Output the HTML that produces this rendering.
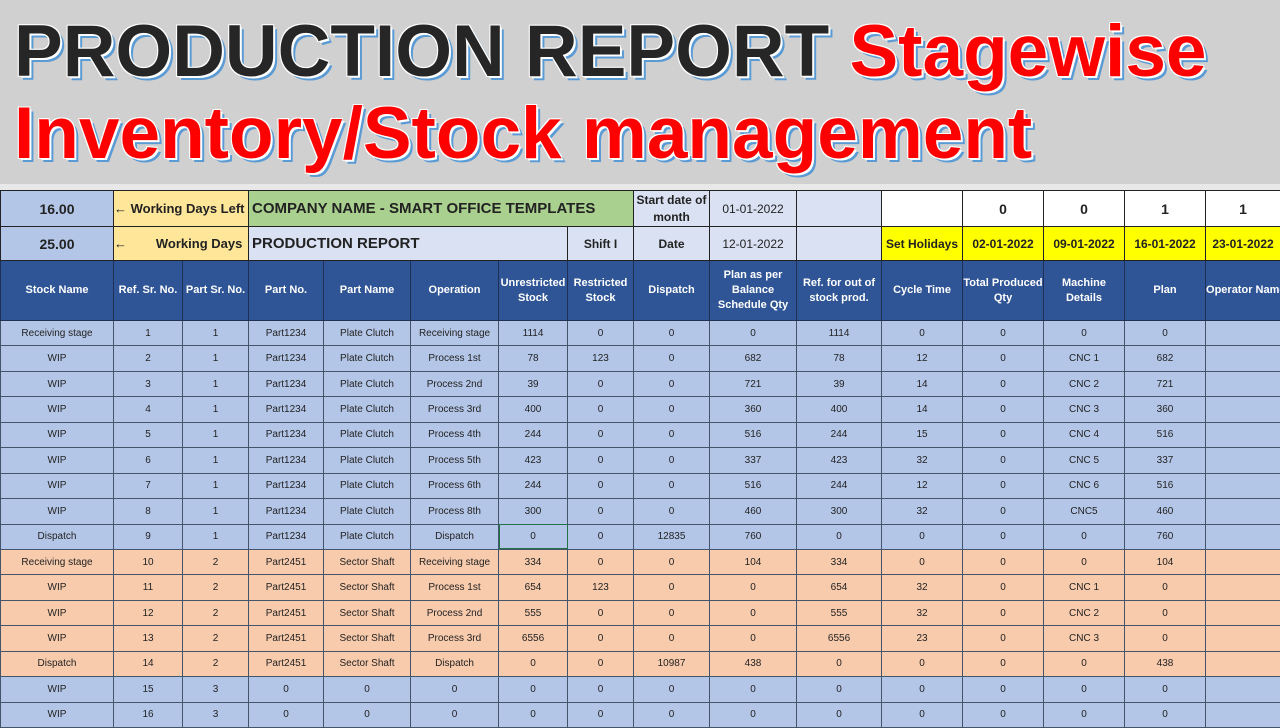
<!DOCTYPE html>
<html><head><meta charset="utf-8"><style>
body{margin:0;width:1280px;height:720px;overflow:hidden;background:#d0d0d0;font-family:"Liberation Sans",sans-serif;position:relative}
.t{position:absolute;left:14px;font-weight:bold;font-size:73px;letter-spacing:0px;white-space:nowrap;
text-shadow:2px 2px 0 #fff,-1px -1px 0 #fff,1px -1px 0 #fff,-1px 1px 0 #fff,4px 4px 0 #5b9bd5}
.sl{position:absolute;top:184px;left:0;width:1280px;height:6px;background:#e8e8e8;border-bottom:1px solid #999}
table{position:absolute;top:190px;left:0;border-collapse:collapse;table-layout:fixed;width:1280px}
td{border:1px solid #44546a;text-align:center;font-size:10px;color:#222;padding:0;overflow:hidden;white-space:nowrap}
.r1 td,.r2 td{font-size:14px;font-weight:bold;border-color:#222}
.h td{background:#2f5597;color:#fff;font-weight:bold;font-size:11px;white-space:normal;line-height:15px;border-color:#1f2f55}
.b,.o{height:25.45px}
.b td{background:#b4c6e7}
.o td{background:#f8cbad}
.lv{background:#d9e1f2}.bl{background:#b4c6e7}.tn{background:#ffe699}.gr{background:#a9d08e}.yw{background:#ffff00}.wh{background:#fff}
</style></head><body>
<div class="t" style="top:10px;color:#262626">PRODUCTION REPORT <span style="color:#f00">Stagewise</span></div>
<div class="t" style="top:92px;color:#f00">Inventory/Stock management</div>
<div class="sl"></div>
<table>
<colgroup><col style="width:113px"><col style="width:69px"><col style="width:66px"><col style="width:75px"><col style="width:87px"><col style="width:88px"><col style="width:69px"><col style="width:66px"><col style="width:76px"><col style="width:87px"><col style="width:85px"><col style="width:81px"><col style="width:81px"><col style="width:81px"><col style="width:81px"><col style="width:75px"></colgroup>
<tr class="r1" style="height:36px"><td class="bl">16.00</td><td colspan="2" class="tn" style="text-align:left;font-size:13px">&larr; Working Days Left</td><td colspan="5" class="gr" style="text-align:left;padding-left:3px;font-size:15px">COMPANY NAME - SMART OFFICE TEMPLATES</td><td class="lv" style="white-space:normal;line-height:17px;font-size:12px">Start date of month</td><td class="lv" style="font-weight:normal;font-size:12px">01-01-2022</td><td class="lv"></td><td class="wh"></td><td class="wh">0</td><td class="wh">0</td><td class="wh">1</td><td class="wh">1</td></tr>
<tr class="r2" style="height:34px"><td class="bl">25.00</td><td colspan="2" class="tn" style="text-align:left;font-size:13px">&larr;&nbsp;&nbsp;&nbsp;&nbsp;&nbsp;&nbsp;&nbsp; Working Days</td><td colspan="4" class="lv" style="text-align:left;padding-left:3px;font-size:15px">PRODUCTION REPORT</td><td class="lv" style="font-size:12px">Shift I</td><td class="lv" style="font-size:12px">Date</td><td class="lv" style="font-weight:normal;font-size:12px">12-01-2022</td><td class="lv"></td><td class="yw" style="font-size:12px">Set Holidays</td><td class="yw" style="font-size:12px">02-01-2022</td><td class="yw" style="font-size:12px">09-01-2022</td><td class="yw" style="font-size:12px">16-01-2022</td><td class="yw" style="font-size:12px">23-01-2022</td></tr>
<tr class="h" style="height:60px"><td>Stock Name</td><td>Ref. Sr. No.</td><td>Part Sr. No.</td><td>Part No.</td><td>Part Name</td><td>Operation</td><td>Unrestricted Stock</td><td>Restricted Stock</td><td>Dispatch</td><td>Plan as per Balance Schedule Qty</td><td>Ref. for out of stock prod.</td><td>Cycle Time</td><td>Total Produced Qty</td><td>Machine Details</td><td>Plan</td><td style="white-space:nowrap">Operator Name</td></tr>
<tr class="b"><td>Receiving stage</td><td>1</td><td>1</td><td>Part1234</td><td>Plate Clutch</td><td>Receiving stage</td><td>1114</td><td>0</td><td>0</td><td>0</td><td>1114</td><td>0</td><td>0</td><td>0</td><td>0</td><td></td></tr>
<tr class="b"><td>WIP</td><td>2</td><td>1</td><td>Part1234</td><td>Plate Clutch</td><td>Process 1st</td><td>78</td><td>123</td><td>0</td><td>682</td><td>78</td><td>12</td><td>0</td><td>CNC 1</td><td>682</td><td></td></tr>
<tr class="b"><td>WIP</td><td>3</td><td>1</td><td>Part1234</td><td>Plate Clutch</td><td>Process 2nd</td><td>39</td><td>0</td><td>0</td><td>721</td><td>39</td><td>14</td><td>0</td><td>CNC 2</td><td>721</td><td></td></tr>
<tr class="b"><td>WIP</td><td>4</td><td>1</td><td>Part1234</td><td>Plate Clutch</td><td>Process 3rd</td><td>400</td><td>0</td><td>0</td><td>360</td><td>400</td><td>14</td><td>0</td><td>CNC 3</td><td>360</td><td></td></tr>
<tr class="b"><td>WIP</td><td>5</td><td>1</td><td>Part1234</td><td>Plate Clutch</td><td>Process 4th</td><td>244</td><td>0</td><td>0</td><td>516</td><td>244</td><td>15</td><td>0</td><td>CNC 4</td><td>516</td><td></td></tr>
<tr class="b"><td>WIP</td><td>6</td><td>1</td><td>Part1234</td><td>Plate Clutch</td><td>Process 5th</td><td>423</td><td>0</td><td>0</td><td>337</td><td>423</td><td>32</td><td>0</td><td>CNC 5</td><td>337</td><td></td></tr>
<tr class="b"><td>WIP</td><td>7</td><td>1</td><td>Part1234</td><td>Plate Clutch</td><td>Process 6th</td><td>244</td><td>0</td><td>0</td><td>516</td><td>244</td><td>12</td><td>0</td><td>CNC 6</td><td>516</td><td></td></tr>
<tr class="b"><td>WIP</td><td>8</td><td>1</td><td>Part1234</td><td>Plate Clutch</td><td>Process 8th</td><td>300</td><td>0</td><td>0</td><td>460</td><td>300</td><td>32</td><td>0</td><td>CNC5</td><td>460</td><td></td></tr>
<tr class="b"><td>Dispatch</td><td>9</td><td>1</td><td>Part1234</td><td>Plate Clutch</td><td>Dispatch</td><td style="outline:1px solid #217346;outline-offset:-1px">0</td><td>0</td><td>12835</td><td>760</td><td>0</td><td>0</td><td>0</td><td>0</td><td>760</td><td></td></tr>
<tr class="o"><td>Receiving stage</td><td>10</td><td>2</td><td>Part2451</td><td>Sector Shaft</td><td>Receiving stage</td><td>334</td><td>0</td><td>0</td><td>104</td><td>334</td><td>0</td><td>0</td><td>0</td><td>104</td><td></td></tr>
<tr class="o"><td>WIP</td><td>11</td><td>2</td><td>Part2451</td><td>Sector Shaft</td><td>Process 1st</td><td>654</td><td>123</td><td>0</td><td>0</td><td>654</td><td>32</td><td>0</td><td>CNC 1</td><td>0</td><td></td></tr>
<tr class="o"><td>WIP</td><td>12</td><td>2</td><td>Part2451</td><td>Sector Shaft</td><td>Process 2nd</td><td>555</td><td>0</td><td>0</td><td>0</td><td>555</td><td>32</td><td>0</td><td>CNC 2</td><td>0</td><td></td></tr>
<tr class="o"><td>WIP</td><td>13</td><td>2</td><td>Part2451</td><td>Sector Shaft</td><td>Process 3rd</td><td>6556</td><td>0</td><td>0</td><td>0</td><td>6556</td><td>23</td><td>0</td><td>CNC 3</td><td>0</td><td></td></tr>
<tr class="o"><td>Dispatch</td><td>14</td><td>2</td><td>Part2451</td><td>Sector Shaft</td><td>Dispatch</td><td>0</td><td>0</td><td>10987</td><td>438</td><td>0</td><td>0</td><td>0</td><td>0</td><td>438</td><td></td></tr>
<tr class="b"><td>WIP</td><td>15</td><td>3</td><td>0</td><td>0</td><td>0</td><td>0</td><td>0</td><td>0</td><td>0</td><td>0</td><td>0</td><td>0</td><td>0</td><td>0</td><td></td></tr>
<tr class="b"><td>WIP</td><td>16</td><td>3</td><td>0</td><td>0</td><td>0</td><td>0</td><td>0</td><td>0</td><td>0</td><td>0</td><td>0</td><td>0</td><td>0</td><td>0</td><td></td></tr>
</table>
</body></html>
